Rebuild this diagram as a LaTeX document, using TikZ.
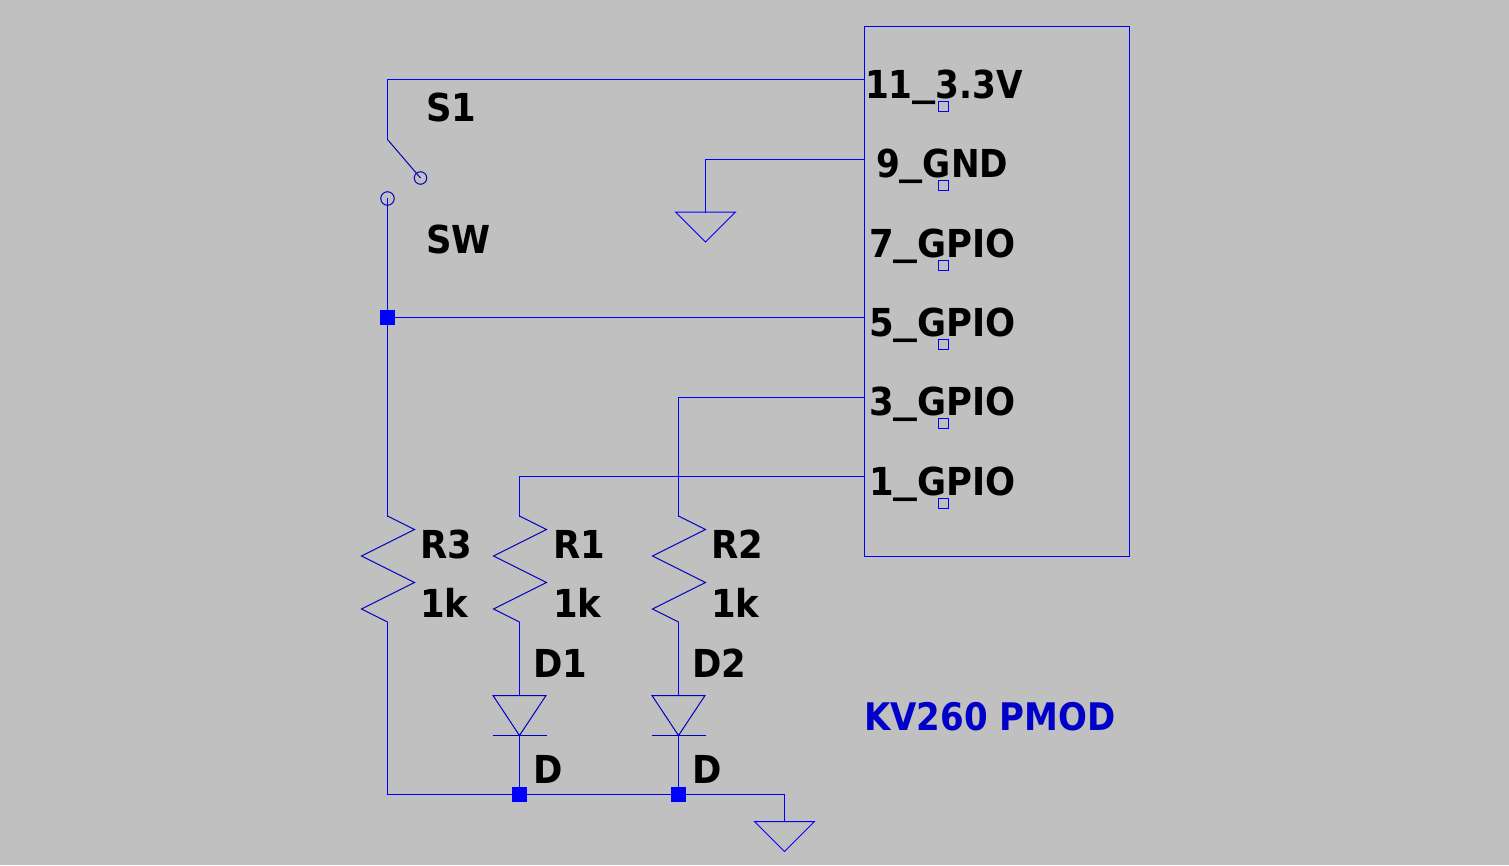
\documentclass[tikz,border=0pt]{standalone}
\usepackage{graphicx}
\usepackage{fontspec}
\newfontfamily\lblfont[FakeStretch=0.92]{DejaVu Sans}
\newfontfamily\pinfont[FakeStretch=0.89]{DejaVu Sans}
\newfontfamily\kvfont[FakeStretch=0.895]{DejaVu Sans}
\newcommand{\wideus}{\raisebox{3pt}{\scalebox{1.35}[1]{\_}}}
\definecolor{bgc}{RGB}{192,192,192}
\definecolor{wirec}{RGB}{0,0,255}
\definecolor{symc}{RGB}{0,0,190}
\definecolor{titlec}{RGB}{0,0,200}
\tikzset{
  wire/.style={draw=wirec,line width=1pt,line cap=rect,line join=miter},
  sym/.style={draw=symc,line width=1pt,line join=miter},
  lbl/.style={anchor=base west,inner sep=0pt,outer sep=0pt,text=black,font=\lblfont\fontsize{38.5}{40}\selectfont\bfseries},
  pinlbl/.style={anchor=base west,inner sep=0pt,outer sep=0pt,text=black,font=\pinfont\fontsize{38.5}{40}\selectfont\bfseries},
  title/.style={anchor=base west,inner sep=0pt,outer sep=0pt,text=titlec,font=\kvfont\fontsize{38}{40}\selectfont\bfseries},
  junction/.style={rectangle,fill=wirec,draw=none,minimum size=15pt,inner sep=0pt,outer sep=0pt},
  pinmark/.style={rectangle,draw=wirec,line width=1pt,fill=none,minimum size=10pt,inner sep=0pt,outer sep=0pt},
  contact/.style={circle,draw=symc,line width=1pt,fill=none,minimum size=12.5pt,inner sep=0pt,outer sep=0pt},
  res/.pic={\draw[sym] (0,0) -- (27,13.5) -- (-26,40) -- (27,66.5) -- (-26,93) -- (0,106);},
  dio/.pic={\draw[sym] (-26.5,0) -- (26.5,0) -- (0,40) -- cycle; \draw[sym] (-27,40) -- (27,40);},
  gnd/.pic={\draw[wire,line cap=butt] (-30,0) -- (30,0) -- (0,30) -- cycle;}
}
\begin{document}
\begin{tikzpicture}[x=1pt,y=-1pt]
\useasboundingbox (0,0) rectangle (1509,865);
\fill[bgc] (0,0) rectangle (1509,865);
% connector block
\node[draw=wirec,line width=1pt,rectangle,minimum width=265pt,minimum height=529.5pt,inner sep=0pt,outer sep=0pt,fill=none] (box) at (997,291.25) {};
\coordinate (p11) at (864.5,79.5);
\coordinate (p9) at (864.5,159.5);
\coordinate (p5) at (864.5,317.5);
\coordinate (p3) at (864.5,397.5);
\coordinate (p1) at (864.5,476.5);
\foreach \n/\y in {a/106,b/185,c/265,d/344.5,e/423.5,f/503}{\node[pinmark] (pin\n) at (943.5,\y) {};}
\node[pinlbl] (t11) at (865,98) {11\wideus 3.3V};
\node[pinlbl] (t9) at (876,177) {9\wideus GND};
\node[lbl] (t7) at (869,257) {7\wideus GPIO};
\node[lbl] (t5) at (869,336) {5\wideus GPIO};
\node[lbl] (t3) at (869,415) {3\wideus GPIO};
\node[lbl] (t1) at (869,495) {1\wideus GPIO};
% switch
\node[contact] (c1) at (420.5,178) {};
\node[contact,minimum size=13.5pt] (c2) at (387.5,198.5) {};
\coordinate (sw) at (387.5,139.5);
\node[lbl] (s1) at (426,121) {S1};
\node[lbl] (sw1) at (426,253) {SW};
\draw[wire] (p11) -| (sw);
\draw[sym] (sw) -- (c1.center);
% junctions
\node[junction] (j5) at (387.5,317.5) {};
\node[junction] (j1) at (519.5,794.5) {};
\node[junction] (j2) at (678.5,794.5) {};
% resistors
\coordinate (r3t) at (387.5,516); \coordinate (r3b) at (387.5,622);
\coordinate (r1t) at (519.5,516); \coordinate (r1b) at (519.5,622);
\coordinate (r2t) at (678.5,516); \coordinate (r2b) at (678.5,622);
\pic at (r3t) {res}; \pic at (r1t) {res}; \pic at (r2t) {res};
\node[lbl] (lr3) at (420,558) {R3};
\node[lbl] (lr1) at (553,558) {R1};
\node[lbl] (lr2) at (711,558) {R2};
\node[lbl] (v3) at (420,617) {1k};
\node[lbl] (v1) at (553,617) {1k};
\node[lbl] (v2) at (711,617) {1k};
% diodes
\coordinate (d1t) at (519.5,695.5); \coordinate (d1b) at (519.5,735.5);
\coordinate (d2t) at (678.5,695.5); \coordinate (d2b) at (678.5,735.5);
\pic at (d1t) {dio}; \pic at (d2t) {dio};
\node[lbl] (ld1) at (533,677) {D1};
\node[lbl] (ld2) at (692,677) {D2};
\node[lbl] (md1) at (533,783) {D};
\node[lbl] (md2) at (692,783) {D};
% grounds
\coordinate (g1) at (705.5,212);
\coordinate (g2) at (784.5,821.5);
\pic at (g1) {gnd}; \pic at (g2) {gnd};
% wires
\draw[wire] (c2.center) -- (r3t);
\draw[wire] (j5) -- (p5);
\draw[wire] (p9) -| (g1);
\draw[wire] (p3) -| (r2t);
\draw[wire] (p1) -| (r1t);
\draw[wire] (r3b) |- (j1);
\draw[wire] (r1b) -- (d1t);
\draw[wire] (r2b) -- (d2t);
\draw[wire] (d1b) -- (j1);
\draw[wire] (d2b) -- (j2);
\draw[wire] (j1) -- (j2);
\draw[wire] (j2) -| (g2);
\node[title] (kv) at (864,730) {KV260 PMOD};
\end{tikzpicture}
\end{document}
